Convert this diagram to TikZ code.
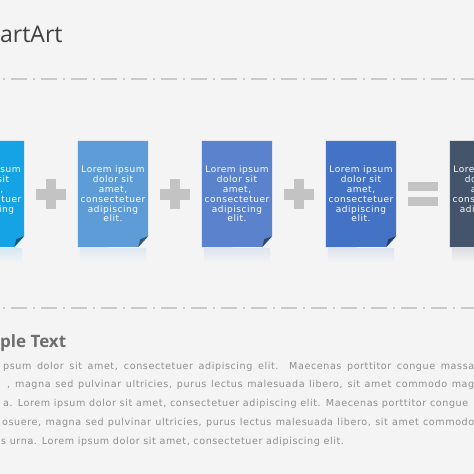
\documentclass[tikz,border=0pt]{standalone}
\usepackage{fontspec}
\setmainfont{DejaVu Sans}
\newfontfamily\headfont{Open Sans}
\usetikzlibrary{calc}
\definecolor{pagebg}{HTML}{F4F4F4}
\definecolor{sepgray}{HTML}{CACACA}
\definecolor{opgray}{HTML}{C3C3C3}
\definecolor{titlegray}{HTML}{404040}
\definecolor{headgray}{HTML}{6E6E6E}
\definecolor{bodygray}{HTML}{8E8E8E}
\definecolor{docA}{HTML}{16A3E6}
\definecolor{docB}{HTML}{5E9CD8}
\definecolor{docC}{HTML}{5A82CD}
\definecolor{docD}{HTML}{4472C4}
\definecolor{docE}{HTML}{44546A}
\pgfdeclarelayer{back}
\pgfsetlayers{back,main}
\begin{document}
\begin{tikzpicture}[x=1pt,y=-1pt,
   font=\fontsize{9.6}{12}\selectfont,
   doc/.style={minimum width=70pt,minimum height=106pt,inner sep=0pt,align=center,
      text=white,font=\fontsize{9}{9.8}\selectfont\addfontfeature{LetterSpace=6}},
   sepline/.style={draw=sepgray,line width=1.2pt,
      dash pattern=on 16pt off 6pt on 2pt off 6pt,dash phase=19pt},
   op/.style={fill=opgray},
   body/.style={anchor=base west,inner sep=0pt,text=bodygray,
      font=\fontsize{9.6}{12}\selectfont\addfontfeature{LetterSpace=6}}]
\useasboundingbox (0,0) rectangle (474,474);

% title and separators
\node[anchor=base west,inner sep=0pt,text=titlegray,
   font=\headfont\fontsize{23}{23}\selectfont] (title) at (0,42) {artArt};
\coordinate (s1a) at (0,79);  \coordinate (s1b) at (474,79);
\coordinate (s2a) at (0,308); \coordinate (s2b) at (474,308);
\draw[sepline] (s1a) -- (s1b);
\draw[sepline] (s2a) -- (s2b);

% documents
\foreach \i/\x in {1/-11,2/113,3/237,4/361,5/485}
   \node[doc] (d\i) at (\x,194) {Lorem ipsum\\dolor sit\\amet,\\consectetuer\\adipiscing\\elit.};

% operators
\foreach \k/\x in {1/51,2/175,3/299}{
   \coordinate (op\k) at (\x,194);
   \fill[op] ($(op\k)+(-15,-5.5)$) rectangle ($(op\k)+(15,5.5)$);
   \fill[op] ($(op\k)+(-5,-15)$) rectangle ($(op\k)+(5,15)$);
}
\coordinate (eq) at (423,194);
\fill[op] ($(eq)+(-15,-12)$) rectangle ($(eq)+(15,-3)$);
\fill[op] ($(eq)+(-15,3)$) rectangle ($(eq)+(15,12)$);

% sample text
\node[anchor=base west,inner sep=0pt,text=headgray,
   font=\headfont\bfseries\fontsize{17}{17}\selectfont] (head) at (0,347) {ple Text};
\node[body] (t1) at (3,369) {\makebox[471pt][s]{psum dolor sit amet, consectetuer adipiscing elit. Maecenas porttitor congue massa}};
\node[body] (t2) at (7,387.5) {\makebox[467pt][s]{, magna sed pulvinar ultricies, purus lectus malesuada libero, sit amet commodo mag}};
\node[body] (t3) at (3,406) {\makebox[465pt][s]{a. Lorem ipsum dolor sit amet, consectetuer adipiscing elit. Maecenas porttitor congue}};
\node[body] (t4) at (2,425) {\makebox[472pt][s]{osuere, magna sed pulvinar ultricies, purus lectus malesuada libero, sit amet commodo}};
\node[body] (t5) at (1,444) {s urna. Lorem ipsum dolor sit amet, consectetuer adipiscing elit.};

\begin{pgfonlayer}{back}
\fill[pagebg] (0,0) rectangle (474,474);
\foreach \i/\c in {1/docA,2/docB,3/docC,4/docD,5/docE}{
   \shade[top color=\c!14!pagebg,bottom color=pagebg]
      ($(d\i.south west)+(2,1)$) rectangle ($(d\i.south east)+(-2,15)$);
   \fill[\c] (d\i.north west) -- (d\i.north east) -- ++(0,95) -- ++(-10,11) -- (d\i.south west) -- cycle;
   \fill[white!88!\c] ($(d\i.south east)+(0,-11)$) .. controls ($(d\i.south east)+(-1,-4)$)
      and ($(d\i.south east)+(-4,-1)$) .. ($(d\i.south east)+(-10,0)$) -- cycle;
   \fill[\c!55!black] ($(d\i.south east)+(-10,0)$) -- ($(d\i.south east)+(-8,-8)$)
      -- ($(d\i.south east)+(0,-11)$) -- cycle;
}
\end{pgfonlayer}
\end{tikzpicture}
\end{document}
